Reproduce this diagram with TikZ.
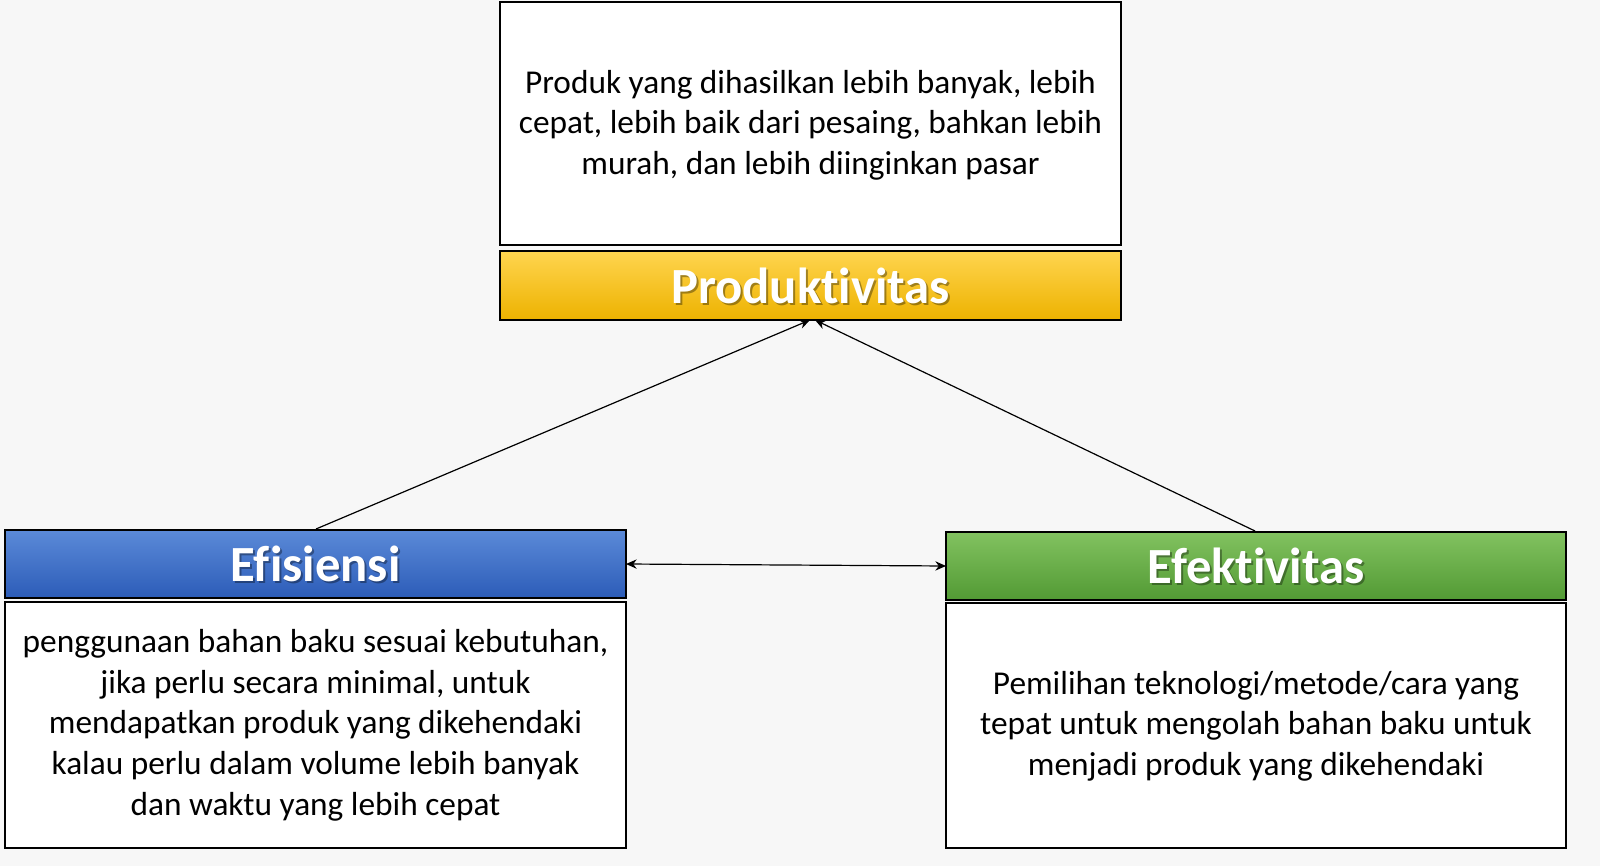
\documentclass[tikz,border=0pt]{standalone}
\usepackage{fontspec}
\setmainfont[Ligatures=NoCommon]{Carlito}
\usetikzlibrary{arrows.meta}
\definecolor{bg}{HTML}{F7F7F7}
\definecolor{ytop}{HTML}{FFD54F}
\definecolor{ybot}{HTML}{EDB200}
\definecolor{btop}{HTML}{5B8AD8}
\definecolor{bbot}{HTML}{2C5CB8}
\definecolor{gtop}{HTML}{82C260}
\definecolor{gbot}{HTML}{529A34}
\begin{document}
\begin{tikzpicture}[x=0.75pt,y=-0.75pt,
  white box/.style={draw=black,line width=1.2pt,fill=white},
  title text/.style={font=\bfseries\fontsize{38}{42}\selectfont,text=white},
  shadow text/.style={font=\bfseries\fontsize{38}{42}\selectfont,text=black,opacity=0.35},
  body text/.style={font=\fontsize{25}{30.5}\selectfont,align=center},
  link/.style={line width=0.9pt,-{Stealth[length=8pt,width=7pt]}}]
\useasboundingbox (0,0) rectangle (1600,866);
\fill[bg] (0,0) rectangle (1600,866);
% top
\draw[white box] (500,2) rectangle (1121,245);
\node[body text] (ptext) at (810.5,125) {Produk yang dihasilkan lebih banyak, lebih\\cepat, lebih baik dari pesaing, bahkan lebih\\murah, dan lebih diinginkan pasar};
\shade[top color=ytop, bottom color=ybot, draw=black, line width=1.2pt] (500,251) rectangle (1121,320);
\node[shadow text] at (812.5,288) {Produktivitas};
\node[title text] (prod) at (810.5,286) {Produktivitas};
\coordinate (pL) at (810,320);
\coordinate (pR) at (815,320);
% left
\shade[top color=btop, bottom color=bbot, draw=black, line width=1.2pt] (5,530) rectangle (626,598);
\node[shadow text] at (317.5,566) {Efisiensi};
\node[title text] (efi) at (315.5,564) {Efisiensi};
\draw[white box] (5,602) rectangle (626,848);
\node[body text] at (315.5,725) {penggunaan bahan baku sesuai kebutuhan,\\jika perlu secara minimal, untuk\\mendapatkan produk yang dikehendaki\\kalau perlu dalam volume lebih banyak\\dan waktu yang lebih cepat};
% right
\shade[top color=gtop, bottom color=gbot, draw=black, line width=1.2pt] (946,532) rectangle (1566,600);
\node[shadow text] at (1258,568) {Efektivitas};
\node[title text] (efe) at (1256,566) {Efektivitas};
\draw[white box] (946,603) rectangle (1566,848);
\node[body text] at (1256,726) {Pemilihan teknologi/metode/cara yang\\tepat untuk mengolah bahan baku untuk\\menjadi produk yang dikehendaki};
% connectors
\coordinate (aL) at (316,529);
\coordinate (aR) at (1255,531);
\coordinate (mL) at (626,564);
\coordinate (mR) at (946,566);
\draw[link] (aL) -- (pL);
\draw[link] (aR) -- (pR);
\draw[line width=0.9pt,{Stealth[length=8pt,width=7pt]}-{Stealth[length=8pt,width=7pt]}] (mL) -- (mR);
\end{tikzpicture}
\end{document}
